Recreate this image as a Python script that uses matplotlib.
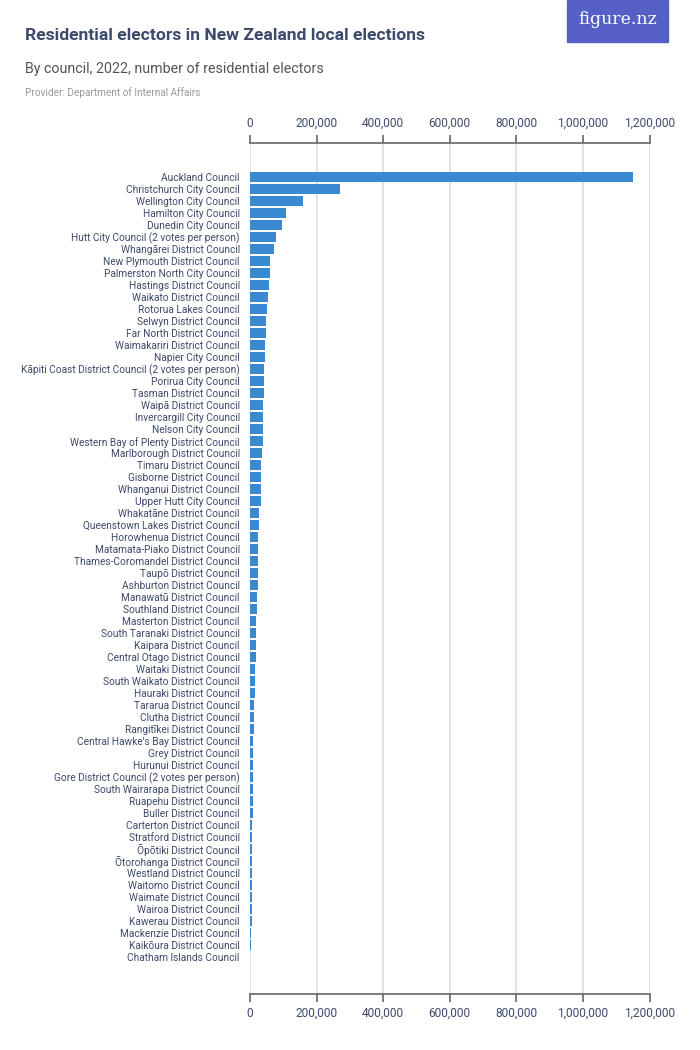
import matplotlib
matplotlib.use("Agg")
import matplotlib.pyplot as plt
import matplotlib.ticker as ticker
from matplotlib.patches import Rectangle

# Data.
councils = [
    "Auckland Council", "Christchurch City Council", "Wellington City Council",
    "Hamilton City Council", "Dunedin City Council",
    "Hutt City Council (2 votes per person)", "Whangārei District Council",
    "New Plymouth District Council", "Palmerston North City Council",
    "Hastings District Council", "Waikato District Council", "Rotorua Lakes Council",
    "Selwyn District Council", "Far North District Council",
    "Waimakariri District Council", "Napier City Council",
    "Kāpiti Coast District Council (2 votes per person)", "Porirua City Council",
    "Tasman District Council", "Waipā District Council", "Invercargill City Council",
    "Nelson City Council", "Western Bay of Plenty District Council",
    "Marlborough District Council", "Timaru District Council",
    "Gisborne District Council", "Whanganui District Council",
    "Upper Hutt City Council", "Whakatāne District Council",
    "Queenstown Lakes District Council", "Horowhenua District Council",
    "Matamata-Piako District Council", "Thames-Coromandel District Council",
    "Taupō District Council", "Ashburton District Council",
    "Manawatū District Council", "Southland District Council",
    "Masterton District Council", "South Taranaki District Council",
    "Kaipara District Council", "Central Otago District Council",
    "Waitaki District Council", "South Waikato District Council",
    "Hauraki District Council", "Tararua District Council", "Clutha District Council",
    "Rangitīkei District Council", "Central Hawke's Bay District Council",
    "Grey District Council", "Hurunui District Council",
    "Gore District Council (2 votes per person)", "South Wairarapa District Council",
    "Ruapehu District Council", "Buller District Council",
    "Carterton District Council", "Stratford District Council",
    "Ōpōtiki District Council", "Ōtorohanga District Council",
    "Westland District Council", "Waitomo District Council",
    "Waimate District Council", "Wairoa District Council",
    "Kawerau District Council", "Mackenzie District Council",
    "Kaikōura District Council", "Chatham Islands Council",
]
electors = [
    1150000, 270500, 160400, 109300, 96300,
    78200, 72200, 61200, 60200, 58200,
    54100, 50100, 48100, 47100, 46100, 45000,
    43100, 42100, 41100, 39100, 39000, 38500, 38000,
    35100, 34100, 33500, 33000, 32000, 28100,
    27000, 25000, 24500, 24000, 23100, 23000,
    22100, 20000, 19500, 18000, 17000, 16800,
    16500, 16000, 15000, 13000, 12800, 11000, 10500,
    10000, 9800, 9500, 9000, 8000, 7800,
    7200, 7000, 6500, 6300, 6000, 6000,
    5800, 5500, 5000, 3500, 3000, 600,
]
x_ticks = [0, 200000, 400000, 600000, 800000, 1000000, 1200000]

# Colours and fonts.
navy = "#3d4a6b"
bar_blue = "#3a8ad3"
label_font = ["Roboto", "DejaVu Sans"]

fig = plt.figure(figsize=(7, 10.5), dpi=100)
W, H = 700, 1050

# Axes placed in pixel terms: x 250..649, y 143..994.
ax = fig.add_axes([250 / W, 1 - 994 / H, (649.5 - 250) / W, (994 - 143) / H])

ypos = list(range(len(councils)))
ax.barh(ypos, electors, height=0.83, color=bar_blue, zorder=3)
ax.set_xlim(0, 1200000)
ax.set_ylim(len(councils) - 1 + 3.1, -2.85)

ax.set_yticks(ypos)
ax.set_yticklabels(councils, fontsize=7.3, color=navy, family=label_font)
ax.tick_params(axis="y", length=0, pad=7.4)

ax.set_xticks(x_ticks)
ax.xaxis.set_major_formatter(ticker.StrMethodFormatter("{x:,.0f}"))
ax.tick_params(axis="x", top=True, labeltop=True, bottom=True, labelbottom=True,
               direction="out", length=6, width=1.2, color="#666666",
               labelsize=8.6, labelcolor=navy, pad=3.5)
for lab in ax.get_xticklabels():
    lab.set_family(label_font)

ax.grid(axis="x", color="#dcdcdc", linewidth=1.2, zorder=0)
for side in ["left", "right"]:
    ax.spines[side].set_visible(False)
for side in ["top", "bottom"]:
    ax.spines[side].set_color("#666666")
    ax.spines[side].set_linewidth(1.2)

# Header texts.
fig.text(25 / W, 1 - 36 / H, "Residential electors in New Zealand local elections",
         fontsize=12.6, color=navy, fontweight="bold", family=label_font, va="center")
fig.text(25 / W, 1 - 69 / H, "By council, 2022, number of residential electors",
         fontsize=10.3, color="#555555", family=label_font, va="center")
fig.text(25 / W, 1 - 93 / H, "Provider: Department of Internal Affairs",
         fontsize=7.2, color="#999999", family=label_font, va="center")

# Logo box.
fig.patches.append(Rectangle((567 / W, 1 - 42 / H), 101 / W, 42 / H,
                             transform=fig.transFigure, color="#5560c6"))
fig.text(618 / W, 1 - 20 / H, "figure.nz", fontsize=12.5, color="white",
         family=["DejaVu Serif"], ha="center", va="center")

fig.savefig("out.png", dpi=100)
